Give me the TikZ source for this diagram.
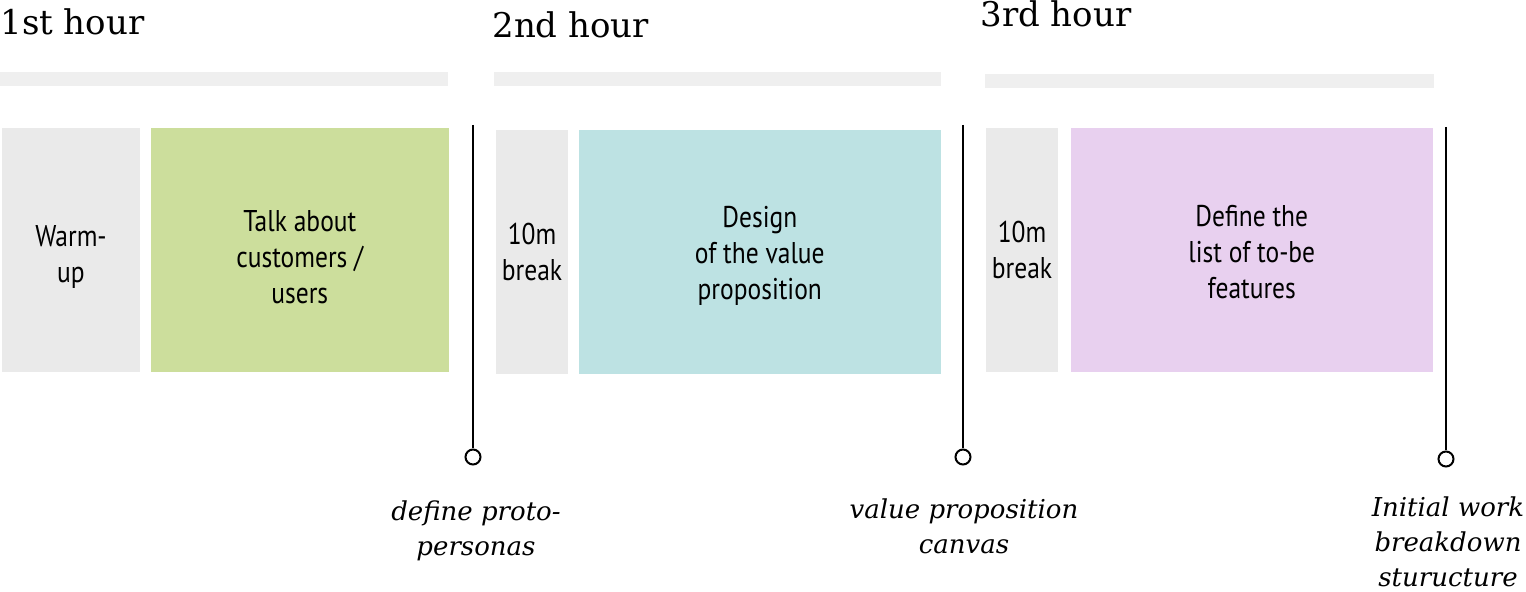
\documentclass[tikz,border=0pt]{standalone}
\usepackage{fontspec}
\newfontfamily\headfont{DejaVu Serif}
\newfontfamily\boxfont[FakeStretch=0.85]{PT Sans}
\usetikzlibrary{
    positioning                       % right=of, below=of
}
\definecolor{bar_grey}{HTML}{EFEFEF}
\definecolor{slot_grey}{HTML}{EAEAEA}
\definecolor{talk_green}{HTML}{CCDE9C}
\definecolor{design_teal}{HTML}{BDE2E3}
\definecolor{feature_lilac}{HTML}{E8D0EF}
\tikzset{
    slot/.style={
        rectangle, inner sep=0pt,
        minimum height=122pt
    },
    slottext/.style={
        inner sep=0pt,
        align=center,
        font=\boxfont\fontsize{15}{18}\selectfont
    },
    hourbar/.style={
        fill=bar_grey
    },
    heading/.style={
        anchor=base west, inner sep=0pt,
        font=\headfont\fontsize{17}{20}\selectfont
    },
    msline/.style={
        line width=1pt
    },
    msdot/.style={
        circle, draw, line width=1pt, fill=white,
        minimum size=7.5pt, inner sep=0pt
    },
    note/.style={
        anchor=north, inner sep=0pt, align=center,
        font=\headfont\itshape\fontsize{13}{17.5}\selectfont
    }
}

\begin{document}
\begin{tikzpicture}[x=0.5pt, y=-0.5pt, node distance=5pt]

    \useasboundingbox (0,0) rectangle (1526,592);

    % --- Titulos de cada hora ---
    \node[heading] (h1) at (0,35)   {1st hour};
    \node[heading] (h2) at (492,38) {2nd hour};
    \node[heading] (h3) at (980,27) {3rd hour};

    \fill[hourbar] (0,72)   rectangle (448,86);
    \fill[hourbar] (494,72) rectangle (941,86);
    \fill[hourbar] (985,74) rectangle (1434,88);

    % --- Primera hora ---
    \node[slot, fill=slot_grey, minimum width=69pt] (warmup) at (71,250) {};
    \node[slot, fill=talk_green, minimum width=149pt, right=of warmup] (talk) {};
    \node[slottext, yshift=-3.5pt] (warmup_txt) at (warmup) {Warm-\\up};
    \node[slottext, yshift=-3.5pt] (talk_txt)   at (talk)   {Talk about\\customers /\\users};

    % --- Segunda hora ---
    \node[slot, fill=slot_grey, minimum width=36pt] (brk2) at (532,252) {};
    \node[slot, fill=design_teal, minimum width=181pt, right=of brk2] (design) {};
    \node[slottext] (brk2_txt)   at (brk2)   {10m\\break};
    \node[slottext, yshift=-2pt] (design_txt) at (design) {Design\\of the value\\proposition};

    % --- Tercera hora ---
    \node[slot, fill=slot_grey, minimum width=36pt] (brk3) at (1022,250) {};
    \node[slot, fill=feature_lilac, minimum width=181pt, right=6pt of brk3] (features) {};
    \node[slottext] (brk3_txt)     at (brk3)     {10m\\break};
    \node[slottext, yshift=-1pt] (features_txt) at (features) {Define the\\list of to-be\\features};

    % --- Hitos ---
    \coordinate (t1) at (473,125);
    \coordinate (t2) at (963,125);
    \coordinate (t3) at (1446,127);
    \node[msdot] (m1) at (473,457)  {};
    \node[msdot] (m2) at (963,457)  {};
    \node[msdot] (m3) at (1446,459) {};

    \foreach \i in {1,2,3} {
        \draw[msline] (t\i) -- (m\i);
    }

    \node[note] (n1) at (476,500)  {define proto-\\personas};
    \node[note] (n2) at (964,498)  {value proposition\\canvas};
    \node[note] (n3) at (1448,496) {Initial work\\breakdown\\sturucture};

\end{tikzpicture}
\end{document}
